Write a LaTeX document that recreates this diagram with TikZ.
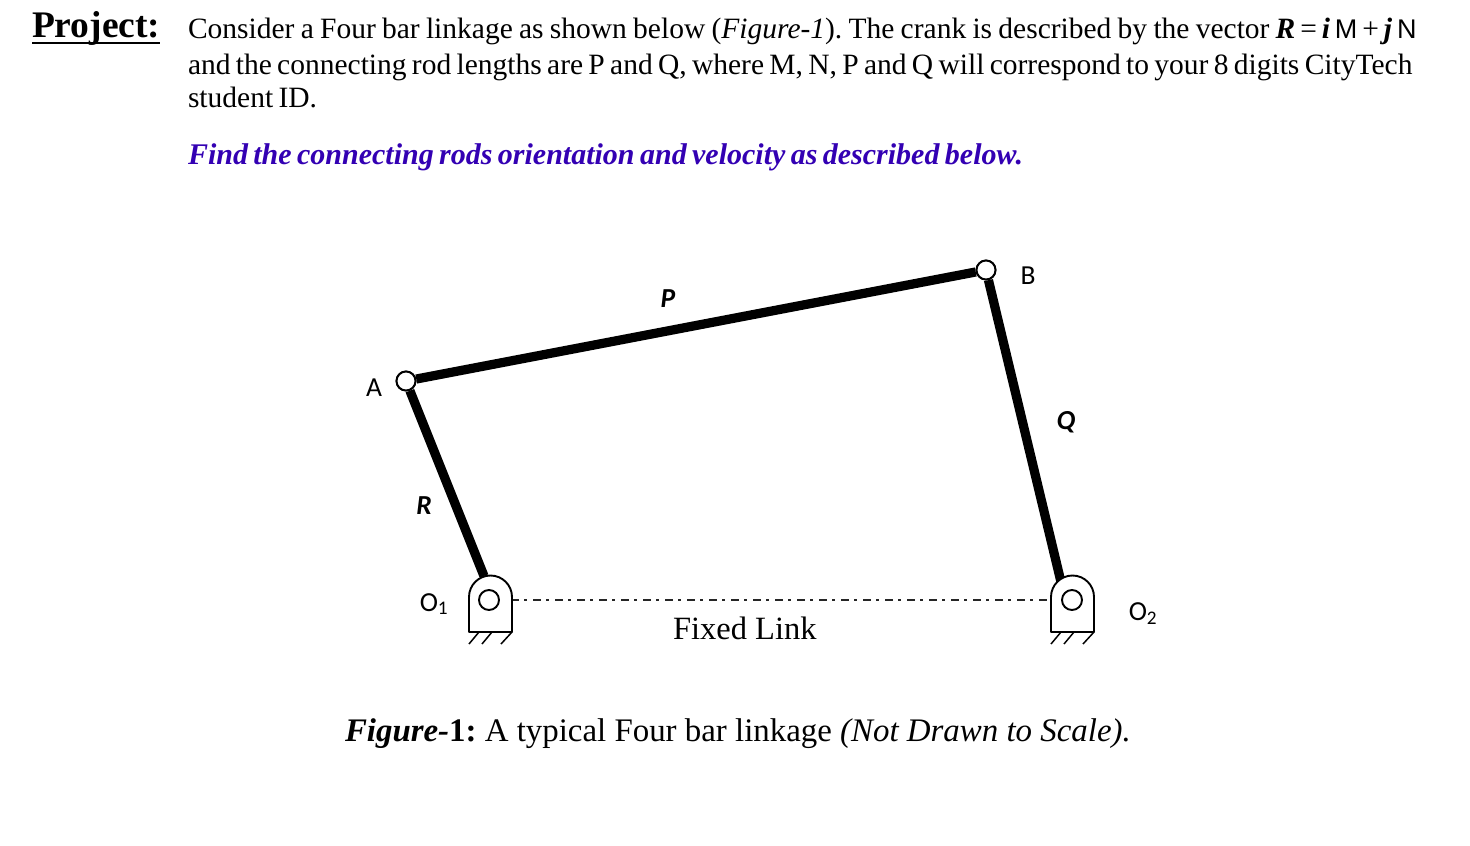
\documentclass[tikz,border=0pt]{standalone}
\usepackage{fontspec}
\setmainfont{Liberation Serif}
\newfontfamily\calib{Carlito}
\newfontfamily\helv{Liberation Sans}
\definecolor{findblue}{HTML}{3300B3}
\newcommand{\fsz}[1]{\fontsize{#1}{#1}\selectfont}
\newcommand{\tight}{\spaceskip=0.18em\relax}
\tikzset{
  x=1pt,y=-1pt,
  txt/.style={anchor=base west,inner sep=0pt,outer sep=0pt},
  body/.style={txt,font=\frenchspacing\fsz{29.5}\tight},
  lbl/.style={anchor=center,inner sep=0pt,font=\calib\fsz{27.5}},
  lblbold/.style={anchor=center,inner sep=0pt,font=\calib\bfseries\itshape\fsz{27.5}},
  cambria/.style={txt,font=\frenchspacing\fsz{32.9}},
  linkbar/.style={line width=9.2pt,black},
  pinjoint/.style={circle,draw=black,line width=1.9pt,fill=white,minimum size=20pt,inner sep=0pt},
  bracket/.style={draw=black,line width=1.9pt,fill=white,line join=round},
  hatch/.style={draw=black,line width=1.5pt},
  fixedline/.style={draw=black!85,line width=1.2pt,dash pattern=on 8pt off 5pt on 3pt off 6pt},
}
\begin{document}
\begin{tikzpicture}
\useasboundingbox (0,0) rectangle (1470,846);
% heading
\node[txt,font=\bfseries\fsz{37.5}] (proj) at (32,37) {Project:};
\draw[line width=2.6pt] (proj.base west)++(0,6) -- ++(128,0);
\node[body] (l1) at (188,38) {\spaceskip=0.212em\relax Consider a Four bar linkage as shown below (\textit{Figure-1}). The crank is described by the vector \textbf{\textit{R}}\,=\,\textbf{\textit{i}}\,{\helv\fsz{27}M}\,+\,\textbf{\textit{j}}\,{\helv\fsz{27}N}};
\node[body] (l2) at (188,74) {and the connecting rod lengths are P and Q, where M, N, P and Q will correspond to your 8 digits CityTech};
\node[body] (l3) at (188,107) {student ID.};
\node[txt,font=\frenchspacing\bfseries\itshape\fsz{30}\tight,text=findblue] (find) at (188,164) {Find the connecting rods orientation and velocity as described below.};
% joints
\coordinate (r1) at (484,576);
\coordinate (q2) at (1061,582);
\node[pinjoint,minimum size=19pt] (A) at (406,381) {};
\node[pinjoint,minimum size=19pt] (B) at (986,270) {};
\coordinate (O1) at (489,600);
\coordinate (O2) at (1072,600);
\draw[fixedline] (O1) -- (O2);
\draw[linkbar] (A) -- (B);
\draw[linkbar] (A) -- (r1);
\draw[linkbar] (B) -- (q2);
\node[pinjoint,minimum size=19pt] at (A) {};
\node[pinjoint,minimum size=19pt] at (B) {};
% left support
\path[bracket] (469,632) -- (469,597) arc[start angle=180,end angle=360,radius=21.5] -- (512,632) -- cycle;
\draw[hatch] (469,644) -- (479,632) (482,644) -- (492,632) (501,644) -- (512,632);
\node[pinjoint] (pin1) at (O1) {};
% right support
\path[bracket] (1051,632) -- (1051,597) arc[start angle=180,end angle=360,radius=21.5] -- (1094,632) -- cycle;
\draw[hatch] (1051,644) -- (1061,632) (1064,644) -- (1074,632) (1083,644) -- (1094,632);
\node[pinjoint] (pin2) at (O2) {};
% labels
\node[lbl] (la) at (374,388) {A};
\node[lbl] (lb) at (1028,276) {B};
\node[lblbold] (lp) at (668,299) {P};
\node[lblbold] (lq) at (1066,422) {Q};
\node[lblbold] (lr) at (424,506) {R};
\node[lbl] (lo1) at (434,604) {O\textsubscript{1}};
\node[lbl] (lo2) at (1143,614) {O\textsubscript{2}};
\node[txt,font=\fsz{32.5}] (fl) at (673,639) {Fixed Link};
\node[cambria] (cap) at (345,741) {\textbf{\textit{Figure-}}\textbf{1:} A typical Four bar linkage \textit{(Not Drawn to Scale).}};
\end{tikzpicture}
\end{document}
